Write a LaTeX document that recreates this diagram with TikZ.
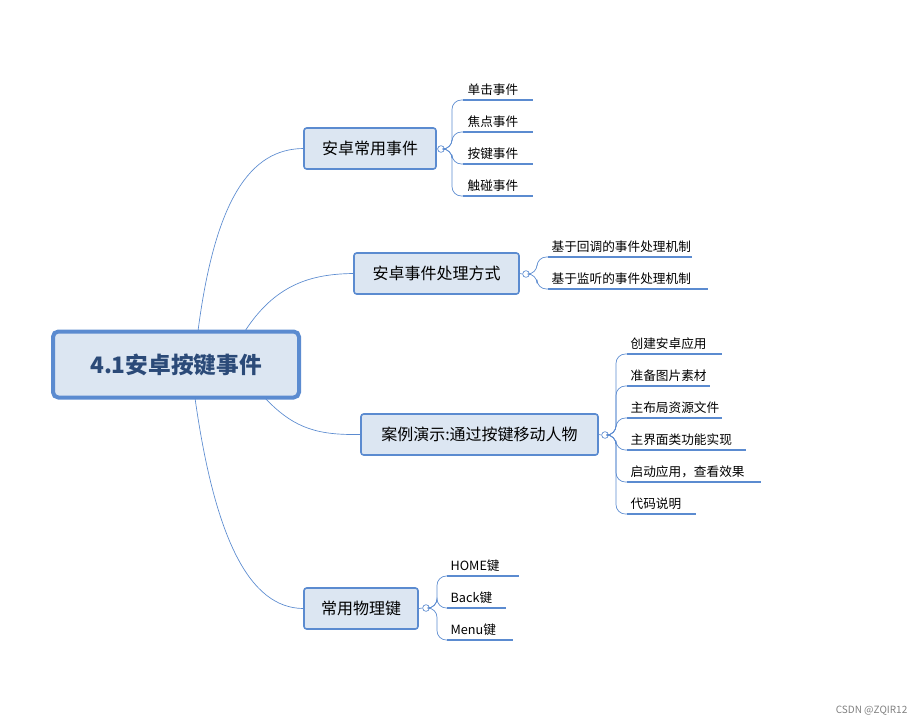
\documentclass[tikz,border=0pt]{standalone}
\usepackage{fontspec}
\setmainfont{Noto Sans CJK SC}
\definecolor{bl}{HTML}{5B8BD0}
\definecolor{fillb}{HTML}{DCE6F2}
\definecolor{tx}{HTML}{2B4A78}
\begin{document}
\begin{tikzpicture}[x={(0.75pt,0)},y={(0,-0.75pt)},
  br/.style={draw=bl,fill=fillb,rounded corners=2pt,line width=1.2pt,inner sep=0pt,font=\fontsize{12}{14}\selectfont},
  lf/.style={anchor=south west,inner sep=1pt,font=\fontsize{9.5}{11}\selectfont},
  ul/.style={draw=bl,line width=1.6pt},
  cn/.style={draw=bl,line width=0.5pt},
  tog/.style={circle,draw=bl,line width=0.5pt,inner sep=0pt,minimum size=5pt,fill=white}]
\useasboundingbox (0,0) rectangle (924,726);
\node[draw=bl,fill=fillb,rounded corners=4pt,line width=3pt,minimum width=184.5pt,minimum height=49.5pt,
  font=\fontsize{17}{20}\selectfont\bfseries,text=tx] (root) at (176,364.5) {4.1安卓按键事件};
\node[br,minimum width=99pt,minimum height=30.75pt] (b1) at (370,148.5) {安卓常用事件};
\node[br,minimum width=123.75pt,minimum height=30.75pt] (b2) at (436.5,273.5) {安卓事件处理方式};
\node[br,minimum width=177.75pt,minimum height=30.75pt] (b3) at (479.5,434.5) {案例演示:通过按键移动人物};
\node[br,minimum width=85.5pt,minimum height=30.75pt] (b4) at (361,608.5) {常用物理键};
\draw[cn] (198,331) .. controls (215,200) and (250,149) .. (b1.west);
\draw[cn] (245,331) .. controls (275,285) and (310,274) .. (b2.west);
\draw[cn] (265,398) .. controls (295,430) and (320,435) .. (b3.west);
\draw[cn] (195,398) .. controls (215,540) and (250,608) .. (b4.west);
% group 1
\node[tog] (t1) at (441,149) {};
\draw[cn] (b1.east) -- (t1.west);
\foreach \y/\w/\t [count=\i] in {100/533/单击事件,132/533/焦点事件,164/533/按键事件,196/533/触碰事件}{
  \coordinate (a\i) at (463,\y);
  \draw[ul] (a\i) -- (\w,\y);
  \node[lf] (la\i) at (466,\y-3) {\t};
  \draw[cn,rounded corners=7pt] (t1.east) -- (452,149) |- (a\i);
}
% group 2
\node[tog] (t2) at (526,274) {};
\draw[cn] (b2.east) -- (t2.west);
\foreach \y/\w/\t [count=\i] in {257/692/基于回调的事件处理机制,289/708/基于监听的事件处理机制}{
  \coordinate (c\i) at (548,\y);
  \draw[ul] (c\i) -- (\w,\y);
  \node[lf] (lc\i) at (550,\y-3) {\t};
  \draw[cn,rounded corners=7pt] (t2.east) -- (537,274) |- (c\i);
}
% group 3
\node[tog] (t3) at (605,435) {};
\draw[cn] (b3.east) -- (t3.west);
\foreach \y/\w/\t [count=\i] in {354/722/创建安卓应用,386/710/准备图片素材,418/722/主布局资源文件,450/746/主界面类功能实现,482/761/{启动应用，查看效果},514/696/代码说明}{
  \coordinate (d\i) at (627,\y);
  \draw[ul] (d\i) -- (\w,\y);
  \node[lf] (ld\i) at (629,\y-3) {\t};
  \draw[cn,rounded corners=7pt] (t3.east) -- (616,435) |- (d\i);
}
% group 4
\node[tog] (t4) at (426,608) {};
\draw[cn] (b4.east) -- (t4.west);
\foreach \y/\w/\t [count=\i] in {576/519/HOME键,608/506/Back键,640/513/Menu键}{
  \coordinate (e\i) at (447,\y);
  \draw[ul] (e\i) -- (\w,\y);
  \node[lf] (le\i) at (449,\y-3) {\t};
  \draw[cn,rounded corners=7pt] (t4.east) -- (437,608) |- (e\i);
}
\node[anchor=east,text=gray,font=\fontsize{7.5}{9}\selectfont] (wm) at (912,711) {CSDN @ZQIR12};
\end{tikzpicture}
\end{document}
